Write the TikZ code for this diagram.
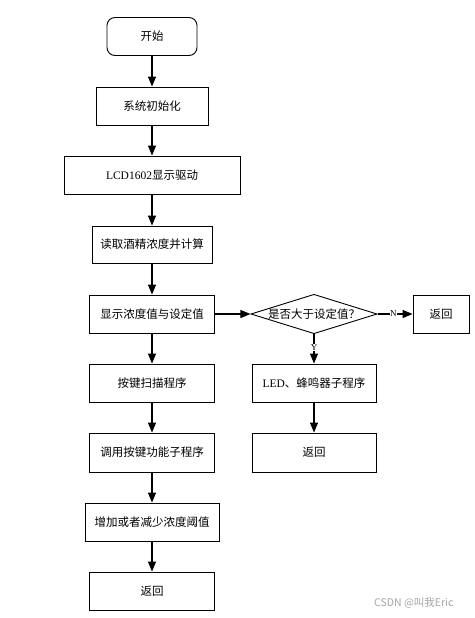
\documentclass[tikz,border=0pt]{standalone}
\usepackage{fontspec}
\setmainfont{Liberation Serif}
\newfontfamily\cjk{Noto Sans CJK SC}
\usetikzlibrary{arrows.meta,shapes.geometric}
\tikzset{
  box/.style={draw, line width=0.9pt, rectangle, inner sep=0pt, minimum height=38pt, font=\fontsize{11.5}{13}\selectfont},
  term/.style={box, rounded corners=8pt},
  dec/.style={draw, line width=0.9pt, diamond, aspect=3.2, inner sep=0pt, minimum width=122pt, minimum height=38pt, font=\fontsize{11.5}{13}\selectfont},
  flow/.style={draw, line width=1.1pt, -{Triangle[length=10pt,width=8pt]}},
  lab/.style={fill=white, inner sep=0.5pt, font=\fontsize{9}{10}\selectfont}
}
\begin{document}
\begin{tikzpicture}[x=1pt,y=-1pt]
\useasboundingbox[fill=white] (0,0) rectangle (474,618);
\node[term, minimum width=90pt] (start) at (152,36.5) {\cjk 开始};
\node[box, minimum width=112pt] (init) at (152,106) {\cjk 系统初始化};
\node[box, minimum width=176pt] (lcd) at (152,175) {LCD1602{\cjk 显示驱动}};
\node[box, minimum width=120pt, minimum height=37pt] (read) at (152,244.5) {\cjk 读取酒精浓度并计算};
\node[box, minimum width=125pt] (show) at (152,314) {\cjk 显示浓度值与设定值};
\node[box, minimum width=125pt] (scan) at (152,383) {\cjk 按键扫描程序};
\node[box, minimum width=125pt, minimum height=39pt] (call) at (152,452.5) {\cjk 调用按键功能子程序};
\node[box, minimum width=134pt] (inc) at (152,522) {\cjk 增加或者减少浓度阈值};
\node[box, minimum width=125pt] (ret1) at (152,591) {\cjk 返回};
\node[dec] (cmp) at (314,314) {\cjk 是否大于设定值？};
\node[box, minimum width=56pt] (retn) at (441,314) {\cjk 返回};
\node[box, minimum width=124pt] (led) at (314,383) {LED{\cjk 、蜂鸣器子程序}};
\node[box, minimum width=124pt, minimum height=39pt] (ret2) at (314,452.5) {\cjk 返回};
\draw[flow] (start) -- (init);
\draw[flow] (init) -- (lcd);
\draw[flow] (lcd) -- (read);
\draw[flow] (read) -- (show);
\draw[flow] (show) -- (scan);
\draw[flow] (scan) -- (call);
\draw[flow] (call) -- (inc);
\draw[flow] (inc) -- (ret1);
\draw[flow] (show) -- (cmp);
\draw[flow] (cmp) -- node[lab, pos=0.45] (nlab) {N} (retn);
\draw[flow] (cmp) -- node[lab, pos=0.45] (ylab) {Y} (led);
\draw[flow] (led) -- (ret2);
\node[text=gray!70, font=\fontsize{10.5}{12}\selectfont\cjk, anchor=east] (wm) at (457,603) {CSDN @叫我Eric};
\end{tikzpicture}
\end{document}
